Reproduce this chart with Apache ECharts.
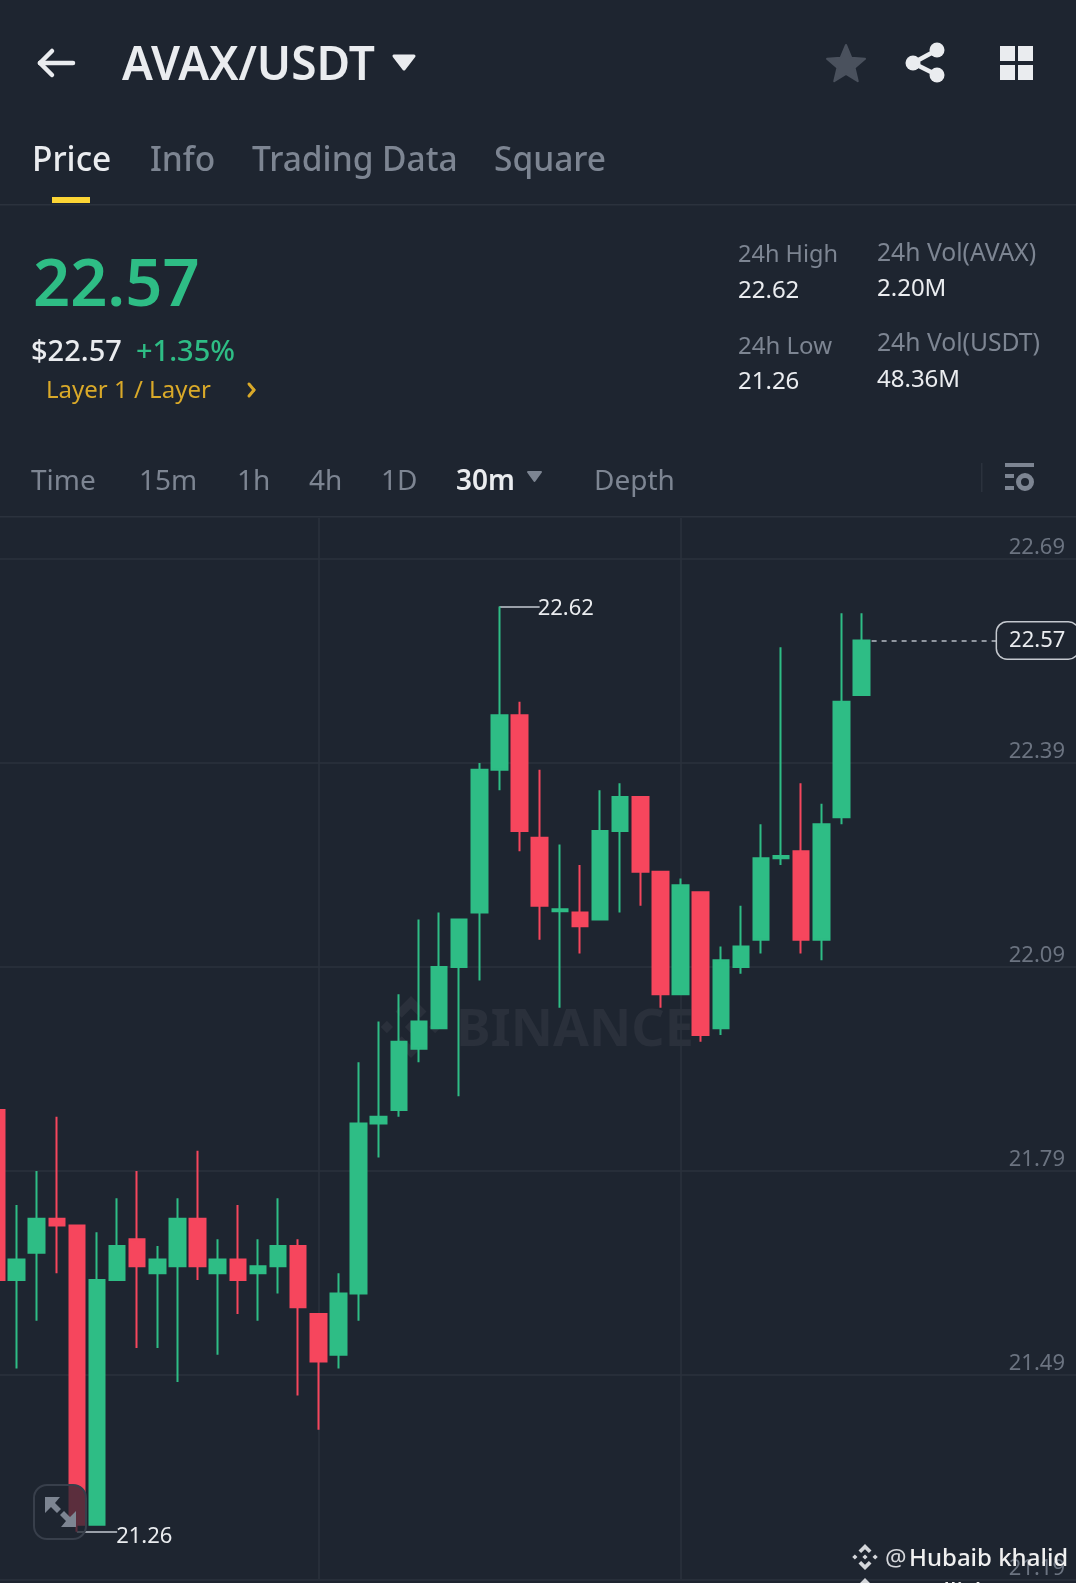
<!DOCTYPE html>
<html>
<head>
<meta charset="utf-8">
<title>AVAX/USDT</title>
<style>
  html, body { margin: 0; padding: 0; background: #1e2530; }
  #chart { width: 1076px; height: 1583px; }
</style>
<script src="https://cdn.jsdelivr.net/npm/echarts@6/dist/echarts.min.js"></script>
</head>
<body>
<div id="chart"></div>
<script>
// 30m candles (index 0 is cut by the left edge)
const opens  = [21.88,21.63,21.67,21.72,21.71,21.27,21.63,21.69,21.64,21.65,21.72,21.64,21.66,21.64,21.65,21.68,21.58,21.52,21.61,21.86,21.88,21.97,22.00,22.09,22.17,22.38,22.46,22.28,22.172,22.17,22.16,22.29,22.34,22.23,22.05,22.20,22.00,22.09,22.13,22.25,22.26,22.13,22.31,22.49];
const closes = [21.63,21.66,21.72,21.71,21.27,21.63,21.68,21.65,21.66,21.72,21.65,21.66,21.63,21.65,21.68,21.59,21.51,21.61,21.86,21.87,21.98,22.01,22.09,22.16,22.38,22.46,22.29,22.18,22.175,22.15,22.29,22.34,22.23,22.05,22.21,21.99,22.10,22.12,22.25,22.253,22.13,22.30,22.48,22.57];
const lows   = [21.63,21.50,21.57,21.64,21.26,21.27,21.63,21.53,21.53,21.48,21.63,21.52,21.58,21.57,21.61,21.46,21.41,21.50,21.57,21.81,21.87,21.95,22.00,21.90,22.07,22.35,22.26,22.13,22.03,22.11,22.16,22.17,22.18,22.03,22.05,21.98,21.99,22.08,22.11,22.24,22.11,22.10,22.30,22.49];
const highs  = [21.88,21.74,21.79,21.87,21.71,21.70,21.75,21.79,21.68,21.75,21.82,21.69,21.74,21.69,21.75,21.69,21.58,21.64,21.95,22.01,22.05,22.16,22.17,22.16,22.39,22.62,22.48,22.38,22.27,22.24,22.35,22.36,22.34,22.23,22.22,22.20,22.12,22.18,22.30,22.56,22.36,22.33,22.61,22.61];
const priceTicks = [21.19, 21.49, 21.79, 22.09, 22.39, 22.69];
const timeLines = [16, 34];
const lastPrice = 22.57;
const dayHigh = 22.62;
const dayLow = 21.26;

const tabs = [['Price', 32, '#eaecef'], ['Info', 150, '#7d8592'], ['Trading Data', 252, '#7d8592'], ['Square', 494, '#7d8592']];
const periods = [['Time', 31], ['15m', 139], ['1h', 237], ['4h', 309], ['1D', 381], ['Depth', 594]];
const dayStats = [
  ['24h High', 738, 253, '#7d8592', 23.5], ['22.62', 738, 289, '#eaecef', 24],
  ['24h Vol(AVAX)', 877, 252, '#7d8592', 24.7], ['2.20M', 877, 287, '#eaecef', 24],
  ['24h Low', 738, 345, '#7d8592', 24], ['21.26', 738, 380, '#eaecef', 24],
  ['24h Vol(USDT)', 877, 342, '#7d8592', 24.7], ['48.36M', 877, 378, '#eaecef', 24]
];

const GREEN = '#2ebd85';
const RED = '#f6465d';
const BG = '#1e2530';
const LINE = '#2b323d';
const FONT = '"Noto Sans", sans-serif';

// empty slots keep the space right of the last candle
const categories = [];
for (let i = 0; i < 55; i++) categories.push(String(i));

const candles = opens.map((o, i) => [o, closes[i], lows[i], highs[i]]);

const txt = (x, y, text, size, fill, weight, z) => ({
  type: 'text', x, y: y + 2, z: z === undefined ? 10 : z,
  style: { text, fill, font: (weight || 400) + ' ' + size + 'px ' + FONT, textVerticalAlign: 'middle' }
});
const poly = (points, fill, z) => ({ type: 'polygon', z: z === undefined ? 10 : z, shape: { points }, style: { fill } });
const rect = (x, y, width, height, fill, r) => ({ type: 'rect', z: 10, shape: { x, y, width, height, r: r || 0 }, style: { fill } });
const seg = (x1, y1, x2, y2, stroke, lineWidth) => ({
  type: 'line', z: 10, shape: { x1, y1, x2, y2 }, style: { stroke, lineWidth, lineCap: 'round' }
});
const dot = (cx, cy, r, fill) => ({ type: 'circle', z: 10, shape: { cx, cy, r }, style: { fill } });

// binance diamond mark
const logo = (cx, cy, r, fill, z) => {
  const p = pts => pts.map(a => [cx + a[0] * r, cy + a[1] * r]);
  const top = [[0, -1], [0.5, -0.5], [0.3, -0.3], [0, -0.6], [-0.3, -0.3], [-0.5, -0.5]];
  const d = (x) => [[x, -0.2], [x + 0.2, 0], [x, 0.2], [x - 0.2, 0]];
  return [
    poly(p(top), fill, z),
    poly(p(top.map(a => [a[0], -a[1]])), fill, z),
    poly(p(d(0)), fill, z),
    poly(p(d(-0.78)), fill, z),
    poly(p(d(0.78)), fill, z)
  ];
};

const star = [];
for (let i = 0; i < 10; i++) {
  const r = i % 2 ? 9 : 20;
  const a = -Math.PI / 2 + i * Math.PI / 5;
  star.push([846 + r * Math.cos(a), 65 + r * Math.sin(a)]);
}

const graphics = [
  // back arrow and title
  seg(40, 63, 73, 63, '#eaecef', 4.5),
  seg(40, 63, 52, 51, '#eaecef', 4.5),
  seg(40, 63, 52, 75, '#eaecef', 4.5),
  txt(122, 65, 'AVAX/USDT', 46, '#eaecef', 600),
  { type: 'polygon', z: 10, shape: { points: [[394, 56], [414, 56], [404, 69]] }, style: { fill: '#eaecef', stroke: '#eaecef', lineWidth: 3, lineJoin: 'round' } },
  { type: 'polygon', z: 10, shape: { points: star }, style: { fill: '#4a515d', stroke: '#4a515d', lineWidth: 2, lineJoin: 'round' } },
  // share icon
  seg(913, 63, 937, 50, '#eaecef', 4.5),
  seg(913, 63, 937, 75, '#eaecef', 4.5),
  dot(913, 63, 7.5, '#eaecef'),
  dot(937, 50, 7.5, '#eaecef'),
  dot(937, 75, 7.5, '#eaecef'),
  // layout icon
  rect(1000, 46, 15, 15, '#eaecef'), rect(1018, 46, 15, 15, '#eaecef'),
  rect(1000, 65, 15, 15, '#eaecef'), rect(1018, 65, 15, 15, '#eaecef'),
  // tabs
  rect(52, 197, 38, 6, '#fcd535'),
  rect(0, 204, 1076, 1.5, LINE),
  // price block
  txt(33, 285, '22.57', 65, GREEN, 600),
  txt(31, 351, '$22.57', 29, '#eaecef', 500),
  txt(136, 351, '+1.35%', 29, GREEN, 500),
  txt(46, 389, 'Layer 1 / Layer', 24, '#d9a929', 400),
  seg(249, 384, 254, 390, '#d9a929', 3),
  seg(254, 390, 249, 396, '#d9a929', 3),
  // period row
  txt(456, 480, '30m', 28, '#eaecef', 600),
  { type: 'polygon', z: 10, shape: { points: [[528, 472], [541, 472], [534.5, 481]] }, style: { fill: '#7d8592', stroke: '#7d8592', lineWidth: 2, lineJoin: 'round' } },
  rect(981, 463, 1.5, 29, LINE),
  rect(1005, 463, 29, 4, '#7d8592'),
  rect(1005, 474, 9, 4, '#7d8592'),
  rect(1005, 486, 9, 4, '#7d8592'),
  { type: 'circle', z: 10, shape: { cx: 1025, cy: 482, r: 6.5 }, style: { fill: BG, stroke: '#7d8592', lineWidth: 5 } },
  rect(0, 516, 1076, 1.5, LINE),
  // watermark under the candles
  ...logo(411, 1027, 31, '#2a303b', 0),
  { type: 'text', x: 456, y: 1031, z: 0, style: { text: 'BINANCE', fill: '#2a303b', font: '700 52px ' + FONT, textVerticalAlign: 'middle' } },
  // expand button
  { type: 'rect', z: 10, shape: { x: 34, y: 1485, width: 52, height: 54, r: 13 }, style: { fill: 'rgba(30,37,48,0.72)', stroke: '#383f4b', lineWidth: 2 } },
  poly([[45, 1497], [60, 1497], [55, 1503], [61, 1509], [57, 1513], [51, 1507], [45, 1513]], '#7d8592'),
  poly([[76, 1527], [61, 1527], [66, 1521], [60, 1515], [64, 1511], [70, 1517], [76, 1511]], '#7d8592'),
  // credit, second line is cut by the page edge
  ...logo(865, 1557, 13, '#d5d7db', 20),
  txt(885, 1557, '@', 24, '#d5d7db', 400, 20),
  txt(909, 1557, 'Hubaib khalid', 24, '#f0f0f0', 500, 20),
  ...logo(865, 1591, 13, '#d5d7db', 20),
  txt(885, 1591, '@ Bullish Beats', 24, '#f0f0f0', 500, 20)
];
tabs.forEach(t => graphics.push(txt(t[1], 159, t[0], 33.5, t[2], 500)));
periods.forEach(p => graphics.push(txt(p[1], 480, p[0], 28, '#7d8592', 400)));
dayStats.forEach(s => graphics.push(txt(s[1], s[2], s[0], s[4], s[3], 400)));

const chart = echarts.init(document.getElementById('chart'));
chart.setOption({
  backgroundColor: BG,
  animation: false,
  textStyle: { fontFamily: FONT },
  grid: { left: -13.66, right: -17, top: 518, bottom: 3.7, outerBoundsMode: 'none' },
  xAxis: {
    type: 'category',
    data: categories,
    axisLine: { show: false },
    axisTick: { show: false },
    axisLabel: { show: false },
    splitLine: { show: false }
  },
  yAxis: {
    type: 'value',
    position: 'right',
    min: 21.19,
    max: 22.75,
    axisLine: { show: false },
    axisTick: { show: false, customValues: priceTicks },
    axisLabel: {
      inside: true,
      margin: 28,
      customValues: priceTicks,
      formatter: v => v.toFixed(2),
      color: '#6b7380',
      fontSize: 22,
      verticalAlign: 'bottom'
    },
    splitLine: { show: true, lineStyle: { color: LINE, width: 1.5 } }
  },
  graphic: { elements: graphics },
  series: [{
    type: 'candlestick',
    data: candles,
    barWidth: 16,
    itemStyle: { color: GREEN, color0: RED, borderColor: GREEN, borderColor0: RED, borderWidth: 2 },
    markLine: {
      silent: true,
      z: 1,
      symbol: 'none',
      animation: false,
      data: [
        ...timeLines.map(i => ({ xAxis: i, lineStyle: { color: LINE, width: 1.5, type: 'solid' }, label: { show: false } })),
        [{ coord: [25, dayHigh], lineStyle: { color: '#9aa0a9', width: 2, type: 'solid' }, label: { show: true, position: 'end', formatter: dayHigh.toFixed(2), color: '#eaecef', fontSize: 22, distance: 0, offset: [-2, 2] } }, { coord: [27, dayHigh] }],
        [{ coord: [4, dayLow], lineStyle: { color: '#9aa0a9', width: 2, type: 'solid' }, label: { show: true, position: 'end', formatter: dayLow.toFixed(2), color: '#eaecef', fontSize: 22, distance: 0, offset: [-1, 5] } }, { coord: [6, dayLow] }],
        [{ coord: [43, lastPrice], lineStyle: { color: '#b7bcc4', width: 1.5, type: [5, 5] }, label: { show: false } }, { coord: [50, lastPrice] }]
      ]
    },
    markPoint: {
      silent: true,
      symbol: 'circle',
      symbolSize: 1,
      itemStyle: { color: 'transparent' },
      animation: false,
      data: [{
        coord: [52, lastPrice],
        label: {
          show: true,
          position: 'inside',
          offset: [-5, 0],
          formatter: lastPrice.toFixed(2),
          color: '#eaecef',
          fontSize: 22,
          backgroundColor: BG,
          borderColor: '#c4c8ce',
          borderWidth: 1.5,
          borderRadius: 10,
          padding: [8, 13, 6, 12]
        }
      }]
    }
  }]
});
</script>
</body>
</html>
